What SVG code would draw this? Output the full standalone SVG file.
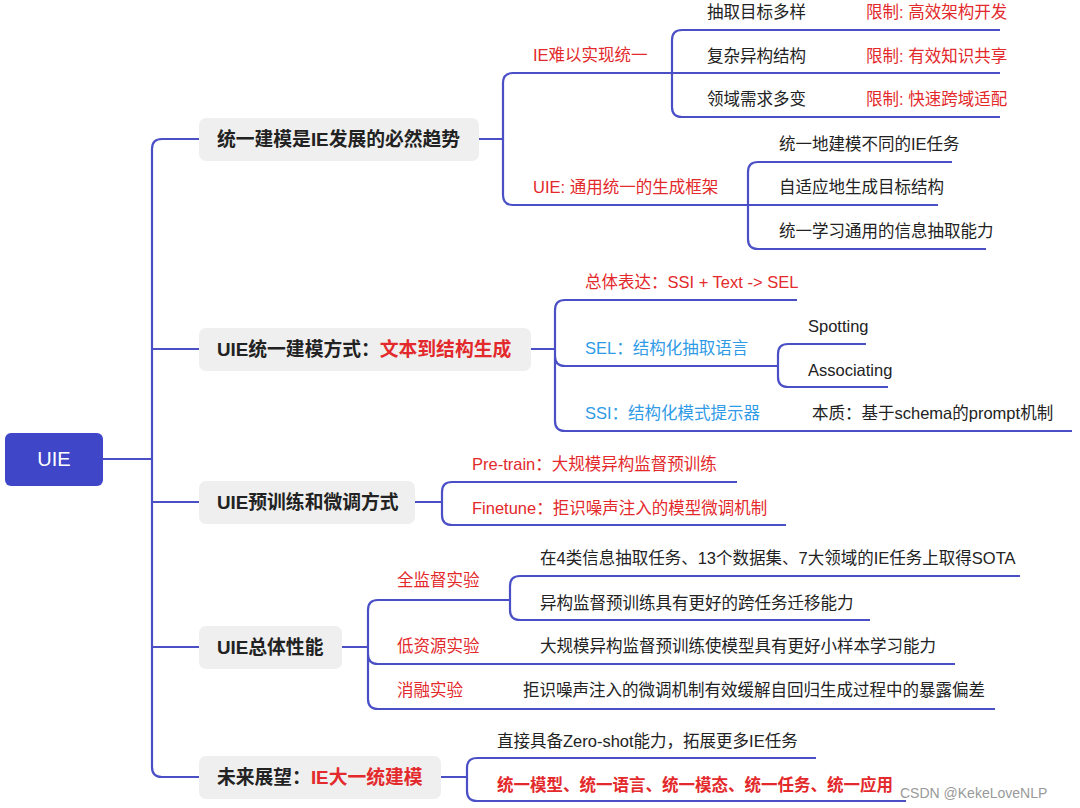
<svg xmlns="http://www.w3.org/2000/svg" width="1080" height="808" viewBox="0 0 1080 808">
<style>
text{font-family:"Liberation Sans","Noto Sans CJK SC",sans-serif;font-size:16.5px;fill:#222}
.r{fill:#e3292b}.b{fill:#2f9be6}
.h{font-size:18.8px;font-weight:bold}
.c path{fill:none;stroke:#4a4fc6;stroke-width:2.2}
.box{fill:#efefef}
</style>
<rect width="1080" height="808" fill="#fff"/>
<g class="c">
<path d="M103,459 H152"/>
<path d="M200,139 H162 Q152,139 152,149 V767 Q152,777 162,777 H200"/>
<path d="M152,349 H200 M152,502 H200 M152,647 H200"/>
<path d="M479,139 H503 V83 Q503,73 513,73 H672"/>
<path d="M503,139 V195 Q503,205 513,205 H748"/>
<path d="M672,73 V40 Q672,30 682,30 H1000 M672,73 H1000 M672,73 V107 Q672,117 682,117 H1000"/>
<path d="M748,205 V172 Q748,162 758,162 H952 M748,205 H938 M748,205 V239 Q748,249 758,249 H986"/>
<path d="M531,349 H555 V310 Q555,300 565,300 H797 M555,349 V356 Q555,366 565,366 H778 M555,349 V421 Q555,431 565,431 H1072"/>
<path d="M778,366 V354 Q778,344 788,344 H866 M778,366 V377 Q778,387 788,387 H888"/>
<path d="M415,502 H442 V492 Q442,482 452,482 H737 M442,502 V515 Q442,525 452,525 H786"/>
<path d="M342,647 H368 V610 Q368,600 378,600 H510 M368,647 V654 Q368,664 378,664 H955 M368,647 V699 Q368,709 378,709 H995"/>
<path d="M510,600 V586 Q510,576 520,576 H1020 M510,600 V610 Q510,620 520,620 H870"/>
<path d="M441,777 H467 V768 Q467,758 477,758 H816 M467,777 V791 Q467,801 477,801 H906"/>
</g>
<g id="root"><rect x="5" y="433" width="98" height="53" rx="6" fill="#3f47c8"/><text x="54" y="466" text-anchor="middle" style="fill:#fff;font-size:20px">UIE</text></g>
<g id="n1"><rect class="box" x="199" y="118" width="280" height="43" rx="7"/><text class="h" x="217" y="146">统一建模是IE发展的必然趋势</text></g>
<g id="n2"><rect class="box" x="199" y="328" width="332" height="43" rx="7"/><text class="h" x="217" y="356">UIE统一建模方式：<tspan class="r">文本到结构生成</tspan></text></g>
<g id="n3"><rect class="box" x="199" y="481" width="216" height="43" rx="7"/><text class="h" x="217" y="509">UIE预训练和微调方式</text></g>
<g id="n4"><rect class="box" x="199" y="626" width="143" height="43" rx="7"/><text class="h" x="217" y="654">UIE总体性能</text></g>
<g id="n5"><rect class="box" x="199" y="756" width="242" height="43" rx="7"/><text class="h" x="217" y="784">未来展望：<tspan class="r">IE大一统建模</tspan></text></g>
<g id="leaves">
<text class="r" x="533" y="61">IE难以实现统一</text>
<text x="707" y="18">抽取目标多样</text><text class="r" x="866" y="18">限制: 高效架构开发</text>
<text x="707" y="62">复杂异构结构</text><text class="r" x="866" y="62">限制: 有效知识共享</text>
<text x="707" y="105">领域需求多变</text><text class="r" x="866" y="105">限制: 快速跨域适配</text>
<text class="r" x="533" y="193">UIE: 通用统一的生成框架</text>
<text x="779" y="150">统一地建模不同的IE任务</text>
<text x="779" y="193">自适应地生成目标结构</text>
<text x="779" y="237">统一学习通用的信息抽取能力</text>
<text class="r" x="585" y="288">总体表达：SSI + Text -&gt; SEL</text>
<text class="b" x="585" y="354">SEL：结构化抽取语言</text>
<text x="808" y="332">Spotting</text>
<text x="808" y="376">Associating</text>
<text class="b" x="585" y="419">SSI：结构化模式提示器</text>
<text x="812" y="419">本质：基于schema的prompt机制</text>
<text class="r" x="472" y="470">Pre-train：大规模异构监督预训练</text>
<text class="r" x="472" y="514">Finetune：拒识噪声注入的模型微调机制</text>
<text class="r" x="397" y="586">全监督实验</text>
<text x="540" y="564">在4类信息抽取任务、13个数据集、7大领域的IE任务上取得SOTA</text>
<text x="540" y="609">异构监督预训练具有更好的跨任务迁移能力</text>
<text class="r" x="397" y="652">低资源实验</text>
<text x="540" y="652">大规模异构监督预训练使模型具有更好小样本学习能力</text>
<text class="r" x="397" y="696">消融实验</text>
<text x="523" y="696">拒识噪声注入的微调机制有效缓解自回归生成过程中的暴露偏差</text>
<text x="497" y="747">直接具备Zero-shot能力，拓展更多IE任务</text>
<text class="r" x="497" y="791" style="font-weight:bold">统一模型、统一语言、统一模态、统一任务、统一应用</text>
</g>
<text x="900" y="798" style="fill:#999;font-size:14px">CSDN @KekeLoveNLP</text>
</svg>
